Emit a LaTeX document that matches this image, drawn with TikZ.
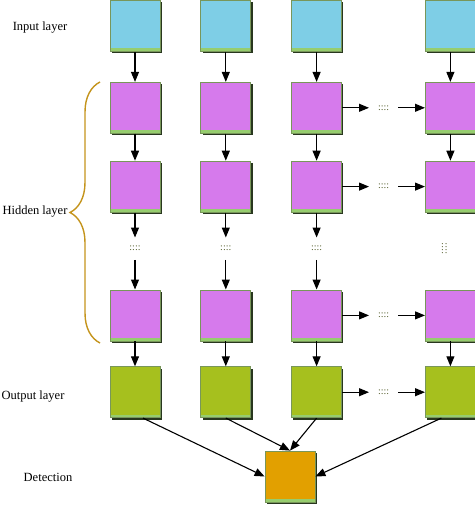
\documentclass[tikz,border=0pt]{standalone}
\usepackage{fontspec}
\setmainfont{Liberation Serif}
\usetikzlibrary{arrows.meta, positioning, shadows, decorations.pathreplacing}

\definecolor{inblue}{RGB}{126,206,230}
\definecolor{hidpink}{RGB}{214,122,236}
\definecolor{outgreen}{RGB}{166,192,30}
\definecolor{detorange}{RGB}{226,160,0}
\definecolor{edgegreen}{RGB}{120,150,90}
\definecolor{stripgreen}{RGB}{150,205,110}
\definecolor{shadowdark}{RGB}{40,55,30}
\definecolor{bracegold}{RGB}{196,148,28}
\definecolor{dotolive}{RGB}{80,90,40}

\begin{document}
\begin{tikzpicture}[x=1pt, y=1pt,
    cell/.style={rectangle, draw=edgegreen, line width=0.8pt,
                 minimum width=50pt, minimum height=51pt, inner sep=0pt,
                 drop shadow={shadow xshift=1.8pt, shadow yshift=-1.8pt,
                              fill=shadowdark, opacity=1},
                 path picture={\fill[stripgreen] (path picture bounding box.south west)
                     rectangle ([yshift=3pt]path picture bounding box.south east);}},
    inp/.style={cell, fill=inblue},
    hid/.style={cell, fill=hidpink},
    outp/.style={cell, fill=outgreen},
    det/.style={cell, fill=detorange},
    arr/.style={-{Triangle[length=10pt, width=8pt]}, line width=1.1pt, black},
    dots/.style={font=\fontsize{10}{10}\selectfont, text=dotolive,
                 inner sep=0pt, minimum width=29pt, minimum height=22pt},
    lbl/.style={font=\fontsize{12.5}{14}\selectfont},
    brc/.style={decorate, decoration={brace, amplitude=30pt},
                draw=bracegold, line width=1.4pt}]

    \useasboundingbox (0,0) rectangle (474,-505);

    % input layer
    \node[inp] (i1) at (135,-26) {};
    \node[inp, right=40pt of i1] (i2) {};
    \node[inp, right=40pt of i2] (i3) {};
    \node[inp, right=83pt of i3] (i4) {};

    % hidden layer
    \node[hid, below=30pt of i1] (h11) {};
    \node[hid, below=30pt of i2] (h12) {};
    \node[hid, below=30pt of i3] (h13) {};
    \node[hid, below=30pt of i4] (h14) {};
    \node[hid, below=27pt of h11] (h21) {};
    \node[hid, below=27pt of h12] (h22) {};
    \node[hid, below=27pt of h13] (h23) {};
    \node[hid, below=27pt of h14] (h24) {};
    \node[hid, below=77pt of h21] (h31) {};
    \node[hid, below=77pt of h22] (h32) {};
    \node[hid, below=77pt of h23] (h33) {};
    \node[hid, below=77pt of h24] (h34) {};

    % output layer and detection
    \node[outp, below=25pt of h31] (o1) {};
    \node[outp, below=25pt of h32] (o2) {};
    \node[outp, below=25pt of h33] (o3) {};
    \node[outp, below=25pt of h34] (o4) {};
    \node[det] (dt) at (290,-476.5) {};

    % dots
    \node[dots, below=25pt of h21] (v1) {::::};
    \node[dots, below=25pt of h22] (v2) {::::};
    \node[dots, below=25pt of h23] (v3) {::::};
    \node[dots, below=25pt of h24, xshift=-6pt] (v4) {\rotatebox{90}{::::}};
    \node[dots, right=27pt of h13] (d1) {::::};
    \node[dots, right=27pt of h23] (d2) {::::};
    \node[dots, right=27pt of h33] (d3) {::::};
    \node[dots, right=27pt of o3] (d4) {::::};

    % vertical arrows
    \foreach \c in {1,...,4} {
      \draw[arr] (i\c) -- (h1\c);
      \draw[arr] (h1\c) -- (h2\c);
      \draw[arr] (h3\c) -- (o\c);
    }
    \foreach \c in {1,...,3} {
      \draw[arr] (h2\c) -- (v\c);
      \draw[arr] (v\c) -- (h3\c);
    }

    % horizontal arrows
    \draw[arr] (h13) -- (d1); \draw[arr] (d1) -- (h14);
    \draw[arr] (h23) -- (d2); \draw[arr] (d2) -- (h24);
    \draw[arr] (h33) -- (d3); \draw[arr] (d3) -- (h34);
    \draw[arr] (o3) -- (d4);  \draw[arr] (d4) -- (o4);

    % to detection
    \draw[arr] ([xshift=8pt]o1.south) -- (dt.west);
    \draw[arr] (o2.south) -- (dt.north);
    \draw[arr] (o3.south) -- (dt.north);
    \draw[arr] ([xshift=-9pt]o4.south) -- (dt.east);

    % labels
    \draw[brc] (100,-343) -- (100,-82);
    \node[lbl] (inlbl) at (40,-28) {Input layer};
    \node[lbl] (hidlbl) at (35,-212) {Hidden layer};
    \node[lbl] (outlbl) at (33,-397) {Output layer};
    \node[lbl] (detlbl) at (48,-477) {Detection};
\end{tikzpicture}
\end{document}
